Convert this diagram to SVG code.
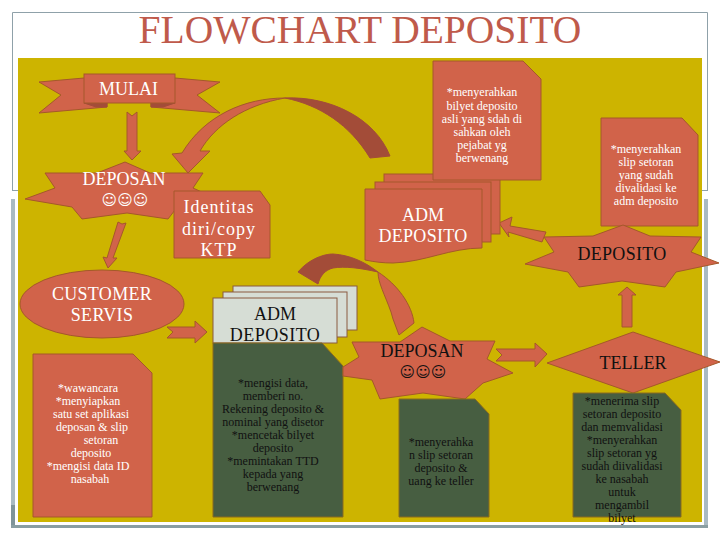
<svg xmlns="http://www.w3.org/2000/svg" width="720" height="540" viewBox="0 0 720 540">
<style>
text{font-family:"Liberation Serif","Times New Roman",serif;text-anchor:middle}
.r{fill:#d1634a;stroke:#a5582a;stroke-width:1}
.g{fill:#475e41;stroke:#8a6a1e;stroke-width:1}
.l{fill:#d6ddd5;stroke:#8a5a40;stroke-width:1}
.d{fill:#a34c38;stroke:#a34c38;stroke-width:1}
.h{font-size:18px;fill:#fff}
.k{font-size:18px;fill:#111}
.n{font-size:12px;fill:#fff}
.m{font-size:12px;fill:#111}
.s{font-family:"DejaVu Sans",sans-serif;font-size:15px}
.f{fill:none;stroke:#8fa1a9;stroke-width:1}
</style>
<rect width="720" height="540" fill="#fff"/>
<g id="frame">
<path class="f" d="M12.5 190V12.5H707.5V190M12 190.500H18M702 190.500H708"/>
<rect x="11" y="199" width="4" height="306" fill="#a9bac2"/>
<rect x="11" y="505" width="4" height="23" fill="#7f9499"/>
<rect x="704" y="199" width="4" height="329" fill="#a9bac2"/>
<rect x="11" y="525" width="697" height="3" fill="#8a9ea2"/>
</g>
<text id="title" x="360" y="43" font-size="39.500" fill="#bf5a4b">FLOWCHART DEPOSITO</text>
<rect id="panel" x="18" y="58" width="684" height="464" fill="#cdb400"/>
<g id="connectors">
<path class="r" d="M127 112L132 116L137 112V151H141L132 160L124 151H127Z"/>
<path class="d" d="M285 98C330 96 375 118 390 156L370 158C350 125 320 105 285 98Z"/>
<path class="r" d="M285 98C245 98 205 115 182 153L172 154L188 173L210 151L200 151C215 125 245 105 285 98Z"/>
<path class="r" d="M118 222L122 224L126 223L113 258H117L108 268L103 257L107 258Z"/>
<path class="r" d="M167 327H195V321L207 332L195 343V338H167L173 332Z"/>
<path class="d" d="M298 272C310 258 325 254 333 254C350 255 365 262 378 272C360 268 345 266 333 268C325 270 320 276 318 284Z"/>
<path class="r" d="M378 272C398 285 412 305 414 323L399 335L393 319L391 312C385 295 378 283 378 272Z"/>
<path class="r" d="M496 349H535V343L547 354L535 367V361H496L502 355Z"/>
<path class="r" d="M622 327V295H618L627 287L636 295H632V327Z"/>
<path class="r" d="M499 223L512 217L510 226L546 232L542 242L508 232L509 237Z"/>
</g>
<g id="mulai">
<path class="r" d="M39 82L84 78H107V107L39 113L61 95Z"/>
<path class="r" d="M220 82L175 78H151V107L220 113L197 95Z"/>
<path class="d" d="M84 103L96 107H107V103ZM175 103L163 107H151V103Z"/>
<rect class="r" x="84" y="74" width="91" height="29"/>
<text class="h" x="128.500" y="95">MULAI</text>
</g>
<g id="deposan-1">
<path class="r" d="M45 173H97L125 162L150 173H203L193 188L217 199L175 210L168 219L127 213L82 219L72 207L25 199L55 188Z"/>
<text class="h" x="124" y="185">DEPOSAN</text>
<text class="s" x="125" y="205" fill="#fff">☺☺☺</text>
</g>
<g id="identitas">
<path class="r" d="M174 191H260L270 205V258H174Z"/>
<text class="h" x="219" y="213" letter-spacing="1">Identitas</text>
<text class="h" x="219" y="235" letter-spacing="1">diri/copy</text>
<text class="h" x="219" y="256" letter-spacing="1">KTP</text>
</g>
<g id="customer-servis">
<ellipse class="r" cx="102" cy="304" rx="82" ry="34"/>
<text class="h" x="102" y="300" letter-spacing=".3">CUSTOMER</text>
<text class="h" x="102" y="321" letter-spacing=".3">SERVIS</text>
</g>
<g id="note-wawancara">
<path class="r" d="M33 354H133L152 373V517H33Z"/>
<text class="n"><tspan x="88" y="392">*wawancara</tspan><tspan x="88" y="405">*menyiapkan</tspan><tspan x="91" y="418">satu set aplikasi</tspan><tspan x="92" y="431">deposan &amp; slip</tspan><tspan x="101" y="444">setoran</tspan><tspan x="91" y="457">deposito</tspan><tspan x="88" y="470">*mengisi data ID</tspan><tspan x="90" y="483">nasabah</tspan></text>
</g>
<g id="adm-deposito-1">
<rect class="l" x="233" y="286" width="124" height="44"/>
<rect class="l" x="223" y="292" width="124" height="45"/>
<rect class="l" x="213" y="298" width="124" height="45"/>
<text class="k" x="275" y="320">ADM</text>
<text class="k" x="275" y="341" letter-spacing=".5">DEPOSITO</text>
</g>
<g id="note-mengisi">
<path class="g" d="M213 343H322L343 366V517H213Z"/>
<text class="m"><tspan x="273" y="387">*mengisi data,</tspan><tspan x="273" y="400">memberi no.</tspan><tspan x="273" y="413">Rekening deposito &amp;</tspan><tspan x="273" y="426">nominal yang disetor</tspan><tspan x="273" y="439">*mencetak bilyet</tspan><tspan x="273" y="452">deposito</tspan><tspan x="273" y="465">*memintakan TTD</tspan><tspan x="273" y="478">kepada yang</tspan><tspan x="273" y="491">berwenang</tspan></text>
</g>
<g id="adm-deposito-2">
<rect class="r" x="384" y="174" width="116" height="60"/>
<rect class="r" x="375" y="182" width="116" height="60"/>
<path class="r" d="M365 189H482V248C450 248 425 262 393 263C383 263 375 262 365 260Z"/>
<text class="h" x="423" y="221">ADM</text>
<text class="h" x="423" y="242" letter-spacing=".3">DEPOSITO</text>
</g>
<g id="note-bilyet">
<path class="r" d="M433 61H523L541 79V180H433Z"/>
<text class="n"><tspan x="482" y="96">*menyerahkan</tspan><tspan x="482" y="110">bilyet deposito</tspan><tspan x="482" y="123">asli yang sdah di</tspan><tspan x="482" y="136">sahkan oleh</tspan><tspan x="482" y="149">pejabat yg</tspan><tspan x="482" y="162">berwenang</tspan></text>
</g>
<g id="note-slip-valid">
<path class="r" d="M601 118H682L698 135V226H601Z"/>
<text class="n"><tspan x="646" y="153">*menyerahkan</tspan><tspan x="646" y="166">slip setoran</tspan><tspan x="646" y="179">yang sudah</tspan><tspan x="646" y="192">divalidasi ke</tspan><tspan x="646" y="205">adm deposito</tspan></text>
</g>
<g id="deposito">
<path class="r" d="M544 237L593 236L623 225L650 236L701 237L691 252L719 263L676 272L665 287L622 281L579 287L568 272L525 264L554 252Z"/>
<text class="k" x="622" y="260" letter-spacing=".3">DEPOSITO</text>
</g>
<g id="deposan-2">
<path class="r" d="M352 342H400L422 327L450 341H495L487 359L513 373L483 383L465 399L423 393L380 399L372 380L343 376L343 367L359 357Z"/>
<text class="k" x="422" y="357">DEPOSAN</text>
<text class="s" x="423" y="377" fill="#111">☺☺☺</text>
</g>
<g id="teller">
<path class="r" d="M547 363L633 332L720 362L633 393Z"/>
<text class="k" x="633" y="369">TELLER</text>
</g>
<g id="note-deposan">
<path class="g" d="M399 399H475L489 414V517H399Z"/>
<text class="m"><tspan x="441" y="446">*menyerahka</tspan><tspan x="441" y="459">n slip setoran</tspan><tspan x="441" y="472">deposito &amp;</tspan><tspan x="441" y="485">uang ke teller</tspan></text>
</g>
<g id="note-teller">
<path class="g" d="M573 393H665L681 410V517H573Z"/>
<text class="m"><tspan x="622" y="405">*menerima slip</tspan><tspan x="622" y="418">setoran deposito</tspan><tspan x="622" y="431">dan memvalidasi</tspan><tspan x="622" y="444">*menyerahkan</tspan><tspan x="622" y="457">slip setoran yg</tspan><tspan x="622" y="470">sudah diivalidasi</tspan><tspan x="622" y="483">ke nasabah</tspan><tspan x="622" y="496">untuk</tspan><tspan x="622" y="509">mengambil</tspan><tspan x="622" y="522">bilyet</tspan></text>
</g>
</svg>
